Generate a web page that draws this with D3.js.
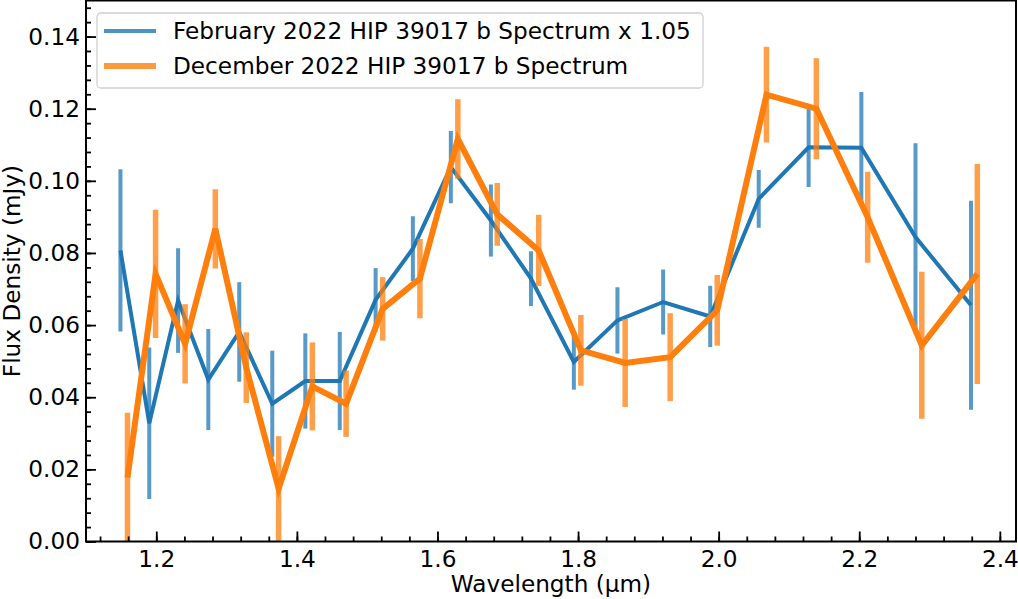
<!DOCTYPE html>
<html>
<head>
<meta charset="utf-8">
<script src="https://cdn.jsdelivr.net/npm/d3@7"></script>
<style>
  body { margin: 0; background: #fff; }
  text { font-family: "DejaVu Sans", sans-serif; }
</style>
</head>
<body>
<svg id="chart"></svg>
<script>
// February 2022 spectrum (already scaled x 1.05)
const febWave = [1.149, 1.190, 1.231, 1.274, 1.318, 1.365, 1.412, 1.461, 1.512, 1.565, 1.619,
                 1.676, 1.733, 1.794, 1.856, 1.921, 1.988, 2.057, 2.128, 2.203, 2.280, 2.359];
const febFlux = [0.0807, 0.0328, 0.0668, 0.0449, 0.0581, 0.0382, 0.0445, 0.0445, 0.0670, 0.0812, 0.1038,
                 0.0890, 0.0729, 0.0498, 0.0613, 0.0664, 0.0624, 0.0950, 0.1093, 0.1092, 0.0844, 0.0655];
const febErr  = [0.0225, 0.0210, 0.0145, 0.0140, 0.0138, 0.0147, 0.0132, 0.0136, 0.0088, 0.0090, 0.0100,
                 0.0100, 0.0076, 0.0077, 0.0092, 0.0090, 0.0085, 0.0080, 0.0110, 0.0154, 0.0260, 0.0290];

// December 2022 spectrum
const decWave = [1.159, 1.199, 1.241, 1.284, 1.328, 1.374, 1.422, 1.470, 1.522, 1.575, 1.629,
                 1.685, 1.744, 1.804, 1.867, 1.931, 1.998, 2.068, 2.139, 2.212, 2.289, 2.368];
const decFlux = [0.0177, 0.0742, 0.0548, 0.0867, 0.0482, 0.0147, 0.0430, 0.0382, 0.0645, 0.0729, 0.1116,
                 0.0907, 0.0807, 0.0530, 0.0495, 0.0511, 0.0641, 0.1239, 0.1200, 0.0899, 0.0544, 0.0742];
const decErr  = [0.0180, 0.0178, 0.0110, 0.0110, 0.0098, 0.0145, 0.0122, 0.0092, 0.0088, 0.0110, 0.0110,
                 0.0087, 0.0099, 0.0098, 0.0122, 0.0122, 0.0098, 0.0133, 0.0140, 0.0126, 0.0204, 0.0305];

const xTicks = [1.2, 1.4, 1.6, 1.8, 2.0, 2.2, 2.4];
const yTicks = [0.00, 0.02, 0.04, 0.06, 0.08, 0.10, 0.12, 0.14];

const seriesNames = ["February 2022 HIP 39017 b Spectrum x 1.05", "December 2022 HIP 39017 b Spectrum"];

const width = 1018, height = 599;
const plot = { left: 86, right: 1016, top: 0.5, bottom: 541.5 };
const fontSize = 23.2;

const svg = d3.select("#chart").attr("width", width).attr("height", height);

const x = d3.scaleLinear().domain([1.1, 2.423]).range([plot.left, plot.right]);
const y = d3.scaleLinear().domain([0, 0.15]).range([plot.bottom, plot.top]);

svg.append("defs").append("clipPath").attr("id", "clip")
    .append("rect")
    .attr("x", plot.left).attr("y", plot.top)
    .attr("width", plot.right - plot.left).attr("height", plot.bottom - plot.top);

const series = [
    { name: seriesNames[0], wave: febWave, flux: febFlux, err: febErr, color: "#1f77b4", lw: 4, ew: 4 },
    { name: seriesNames[1], wave: decWave, flux: decFlux, err: decErr, color: "#ff7f0e", lw: 6, ew: 5.5 }
];

const marks = svg.append("g").attr("clip-path", "url(#clip)");
const line = d3.line().x(d => x(d.w)).y(d => y(d.f));

series.forEach(s => {
    const pts = s.wave.map((w, i) => ({ w: w, f: s.flux[i], e: s.err[i] }));

    marks.append("path")
        .datum(pts)
        .attr("d", line)
        .attr("fill", "none")
        .attr("stroke", s.color)
        .attr("stroke-width", s.lw)
        .attr("stroke-linejoin", "miter");

    marks.append("g").selectAll("line")
        .data(pts)
        .join("line")
        .attr("x1", d => x(d.w))
        .attr("x2", d => x(d.w))
        .attr("y1", d => y(d.f - d.e))
        .attr("y2", d => y(d.f + d.e))
        .attr("stroke", s.color)
        .attr("stroke-opacity", 0.75)
        .attr("stroke-width", s.ew);
});

// axes: ticks point inward
function styleAxis(g) {
    g.select(".domain").remove();
    g.selectAll(".tick line").attr("stroke", "#000").attr("stroke-width", 1.8);
    g.selectAll("text").attr("fill", "#000").attr("font-size", fontSize)
        .attr("font-family", "DejaVu Sans, sans-serif");
}

const xMinor = d3.range(1.12, 2.421, 0.04);
const yMinor = d3.range(0, 0.1481, 0.004);

svg.append("g")
    .attr("transform", `translate(0, ${plot.bottom})`)
    .call(d3.axisBottom(x).tickValues(xMinor).tickSize(-5).tickFormat(""))
    .call(styleAxis);

svg.append("g")
    .attr("transform", `translate(0, ${plot.bottom})`)
    .call(d3.axisBottom(x).tickValues(xTicks).tickSize(-10).tickPadding(9).tickFormat(d3.format(".1f")))
    .call(styleAxis);

svg.append("g")
    .attr("transform", `translate(${plot.left}, 0)`)
    .call(d3.axisLeft(y).tickValues(yMinor).tickSize(-5).tickFormat(""))
    .call(styleAxis);

svg.append("g")
    .attr("transform", `translate(${plot.left}, 0)`)
    .call(d3.axisLeft(y).tickValues(yTicks).tickSize(-10).tickPadding(6).tickFormat(d3.format(".2f")))
    .call(styleAxis);

// frame
svg.append("rect")
    .attr("x", plot.left).attr("y", plot.top)
    .attr("width", plot.right - plot.left).attr("height", plot.bottom - plot.top)
    .attr("fill", "none")
    .attr("stroke", "#000")
    .attr("stroke-width", 2);

// axis labels
svg.append("text")
    .attr("x", (plot.left + plot.right) / 2)
    .attr("y", 592)
    .attr("text-anchor", "middle")
    .attr("font-size", fontSize)
    .text("Wavelength (µm)");

svg.append("text")
    .attr("transform", `translate(20, ${(plot.top + plot.bottom) / 2}) rotate(-90)`)
    .attr("text-anchor", "middle")
    .attr("font-size", fontSize)
    .text("Flux Density (mJy)");

// legend
const legend = svg.append("g");
legend.append("rect")
    .attr("x", 97).attr("y", 13)
    .attr("width", 606).attr("height", 75)
    .attr("rx", 4)
    .attr("fill", "#fff").attr("fill-opacity", 0.8)
    .attr("stroke", "#d0d0d0").attr("stroke-width", 1.3);

series.forEach((s, i) => {
    const ly = 31 + i * 35;
    legend.append("line")
        .attr("x1", 104).attr("x2", 156)
        .attr("y1", ly).attr("y2", ly)
        .attr("stroke", s.color)
        .attr("stroke-opacity", 0.8)
        .attr("stroke-width", s.lw);
    legend.append("text")
        .attr("x", 173).attr("y", ly + 8)
        .attr("font-size", fontSize)
        .text(s.name);
});
</script>
</body>
</html>
